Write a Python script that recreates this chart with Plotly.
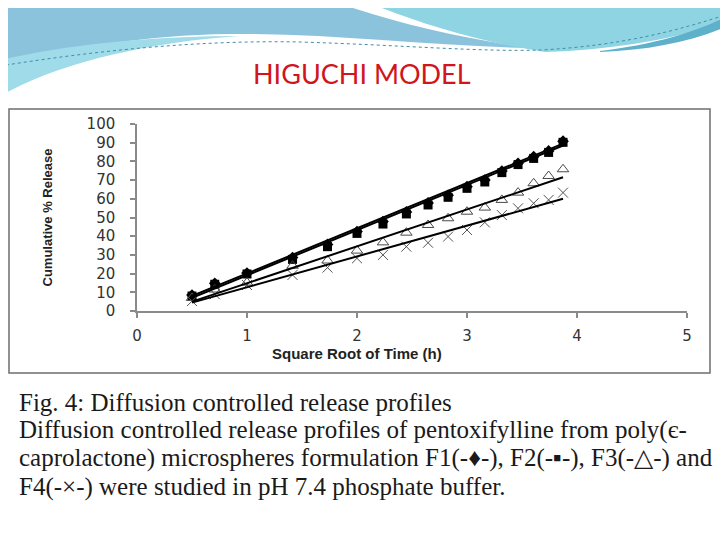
import plotly.graph_objects as go

# ---------------- data ----------------
sqrt_time = [0.5, 0.707, 1.0, 1.414, 1.732, 2.0, 2.236, 2.449, 2.646, 2.828,
             3.0, 3.162, 3.317, 3.464, 3.606, 3.742, 3.873]
f1 = [8.5, 14.8, 20.3, 28.6, 35.6, 42.5, 47.8, 53.0, 57.8, 61.9, 66.5, 70.0, 74.8, 79.0, 82.5, 85.6, 90.8]
f2 = [8.0, 14.3, 19.8, 27.6, 34.4, 41.5, 46.5, 51.9, 56.7, 60.8, 65.6, 69.0, 74.0, 78.3, 81.6, 84.8, 90.2]
f3 = [7.0, 11.5, 15.2, 24.2, 27.0, 32.3, 36.7, 41.9, 46.0, 49.6, 53.1, 55.3, 59.4, 63.3, 68.3, 72.2, 75.8]
f4 = [5.3, 9.0, 13.9, 19.3, 23.2, 28.2, 30.0, 34.4, 36.5, 39.8, 43.3, 47.4, 51.3, 54.9, 57.6, 59.4, 63.3]

# fitted (Higuchi) straight lines: value at first and last sqrt(time)
fit_x = [0.5, 3.873]
fit_f1 = [8.0, 89.5]
fit_f2 = [7.0, 88.5]
fit_f3 = [5.0, 71.5]
fit_f4 = [4.5, 60.0]

x_ticks = [0, 1, 2, 3, 4, 5]
y_ticks = [0, 10, 20, 30, 40, 50, 60, 70, 80, 90, 100]

title_text = "HIGUCHI MODEL"
x_title = "Square Root of Time (h)"
y_title = "Cumulative % Release"
caption_lines = [
    "Fig. 4: Diffusion controlled release profiles",
    "Diffusion controlled release profiles of pentoxifylline from poly(є-",
    "caprolactone) microspheres formulation F1(-♦-), F2(-▪-), F3(-△-) and",
    "F4(-×-) were studied in pH 7.4 phosphate buffer.",
]

# ---------------- layout geometry ----------------
OFF = 8                      # page body margin of the html page
W, H = 728 - OFF, 546 - OFF
ML, MT = 137 - OFF, 124 - OFF
PW, PH = 550, 187
MR, MB = W - ML - PW, H - MT - PH


def px(x):                   # page pixel -> paper x
    return (x - OFF - ML) / PW


def py(y):                   # page pixel -> paper y
    return (H - MB - (y - OFF)) / PH


def path(cmds):
    out = []
    for c, pts in cmds:
        s = c
        if pts:
            s += " " + " ".join(f"{px(a):.5f},{py(b):.5f}" for a, b in pts)
        out.append(s)
    return " ".join(out)


fig = go.Figure()

series = [
    ("F1", f1, fit_f1, dict(symbol="diamond", size=9, color="black")),
    ("F2", f2, fit_f2, dict(symbol="square", size=9, color="black")),
    ("F3", f3, fit_f3, dict(symbol="triangle-up-open", size=10, color="#4a4a4a", line=dict(width=1, color="#4a4a4a"))),
    ("F4", f4, fit_f4, dict(symbol="x-thin-open", size=10, color="#555555", line=dict(width=1, color="#555555"))),
]
for name, ys, fit, mk in series:
    fig.add_trace(go.Scatter(x=sqrt_time, y=ys, mode="markers", name=name, marker=mk,
                             showlegend=False, cliponaxis=False))
for name, ys, fit, mk in series:
    fig.add_trace(go.Scatter(x=fit_x, y=fit, mode="lines", name=name + " fit",
                             line=dict(color="black", width=2), showlegend=False))

shapes = []
# decorative header waves
shapes.append(dict(type="path", xref="paper", yref="paper", layer="below",
                   path=path([("M", [(0, 0)]), ("L", [(330, 0)]),
                              ("C", [(390, 22), (460, 38), (530, 48)]),
                              ("C", [(430, 46), (330, 33), (230, 34)]),
                              ("C", [(140, 35), (60, 50), (0, 68)]), ("Z", [])]),
                   fillcolor="#8cc3dc", line=dict(width=0)))
shapes.append(dict(type="path", xref="paper", yref="paper", layer="below",
                   path=path([("M", [(0, 60)]),
                              ("C", [(80, 42), (160, 36), (240, 36)]),
                              ("C", [(150, 42), (60, 62), (0, 96)]), ("Z", [])]),
                   fillcolor="#9fdbe8", line=dict(width=0)))
shapes.append(dict(type="path", xref="paper", yref="paper", layer="below",
                   path=path([("M", [(362, 0)]), ("L", [(728, 0)]), ("L", [(728, 22)]),
                              ("C", [(670, 40), (610, 50), (545, 52)]),
                              ("C", [(470, 40), (410, 20), (362, 0)]), ("Z", [])]),
                   fillcolor="#8fd4e2", line=dict(width=0)))
shapes.append(dict(type="path", xref="paper", yref="paper", layer="below",
                   path=path([("M", [(600, 51)]),
                              ("C", [(660, 44), (700, 30), (728, 16)]),
                              ("L", [(728, 26)]),
                              ("C", [(690, 42), (650, 50), (600, 52)]), ("Z", [])]),
                   fillcolor="#5fb0cb", line=dict(width=0)))
shapes.append(dict(type="path", xref="paper", yref="paper", layer="below",
                   path=path([("M", [(0, 66)]),
                              ("C", [(100, 50), (200, 40), (300, 42)]),
                              ("C", [(400, 45), (480, 52), (540, 50)]),
                              ("C", [(620, 46), (680, 30), (728, 14)])]),
                   line=dict(color="#3f8ea8", width=1, dash="dot")))
# chart frame
shapes.append(dict(type="rect", xref="paper", yref="paper", layer="below",
                   x0=px(9), x1=px(710), y0=py(109), y1=py(373),
                   line=dict(color="#6e6e6e", width=1.5), fillcolor="rgba(0,0,0,0)"))

annotations = [
    dict(text=title_text, xref="paper", yref="paper", x=px(362), y=py(73),
         xanchor="center", yanchor="middle", showarrow=False,
         font=dict(family="Lato, Open Sans, sans-serif", size=27, color="#d0151d")),
    dict(text="<b>" + x_title + "</b>", xref="x", yref="paper", x=2.0, y=py(353),
         xanchor="center", yanchor="middle", showarrow=False,
         font=dict(family="Liberation Sans, Arial, sans-serif", size=15, color="#222222")),
    dict(text="<b>" + y_title + "</b>", xref="paper", yref="y", x=px(47), y=50,
         xanchor="center", yanchor="middle", showarrow=False, textangle=-90,
         font=dict(family="Liberation Sans, Arial, sans-serif", size=13, color="#222222")),
]
cap_y = [402, 430, 458, 487]
for line, yy in zip(caption_lines, cap_y):
    annotations.append(dict(text=line, xref="paper", yref="paper", x=px(17), y=py(yy),
                            xanchor="left", yanchor="middle", showarrow=False,
                            font=dict(family="Liberation Serif, Times New Roman, serif",
                                      size=25, color="#1a1a1a")))

fig.update_layout(
    width=W, height=H,
    margin=dict(l=ML, r=MR, t=MT, b=MB, pad=0),
    paper_bgcolor="white", plot_bgcolor="white",
    showlegend=False,
    shapes=shapes,
    annotations=annotations,
    xaxis=dict(range=[0, 5], tickvals=x_ticks, showgrid=False, zeroline=False,
               showline=True, linecolor="#8a8a8a", linewidth=1.5,
               ticks="outside", ticklen=5, tickcolor="#8a8a8a", tickwidth=1.5,
               ticklabelstandoff=5,
               tickfont=dict(family="DejaVu Sans, sans-serif", size=15, color="#333333")),
    yaxis=dict(range=[0, 100], tickvals=y_ticks, showgrid=False, zeroline=False,
               showline=True, linecolor="#8a8a8a", linewidth=1.5,
               ticks="outside", ticklen=5, tickcolor="#8a8a8a", tickwidth=1.5,
               ticklabelstandoff=12,
               tickfont=dict(family="DejaVu Sans, sans-serif", size=15, color="#333333")),
)

fig.write_html("out.html")
